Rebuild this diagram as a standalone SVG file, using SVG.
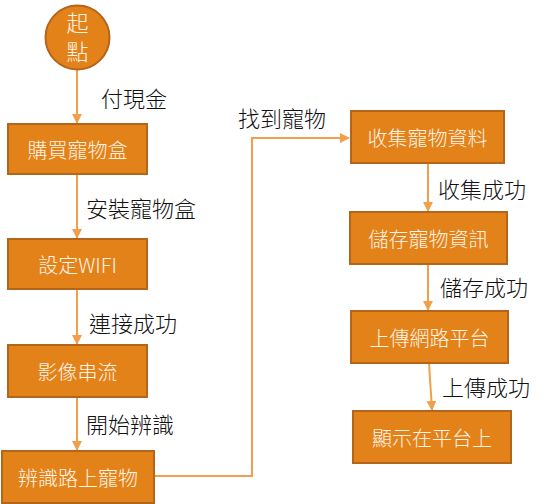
<svg xmlns="http://www.w3.org/2000/svg" width="554" height="504" viewBox="0 0 554 504">
<style>
.box{fill:#E4821A;stroke:#B4651C;stroke-width:2}
.bt{fill:#FFF4E6;font-family:"Noto Sans CJK TC","Noto Sans",sans-serif;font-size:20px;font-weight:300;text-anchor:middle;dominant-baseline:central}
.lb{fill:#111;font-family:"Noto Sans CJK TC","Noto Sans",sans-serif;font-size:22px;font-weight:300;dominant-baseline:central}
.cn{fill:none;stroke:#F0A04B;stroke-width:2}
</style>
<defs>
<marker id="ah" viewBox="0 0 10 10" refX="9" refY="5" markerWidth="5" markerHeight="5" orient="auto" markerUnits="strokeWidth">
<path d="M0,0 L10,5 L0,10 z" fill="#F0A04B"/>
</marker>
</defs>
<rect width="554" height="504" fill="#fff"/>
<g id="connectors">
<line class="cn" x1="77" y1="70" x2="77" y2="123" marker-end="url(#ah)"/>
<line class="cn" x1="77" y1="174" x2="77" y2="238" marker-end="url(#ah)"/>
<line class="cn" x1="77" y1="289" x2="77" y2="344" marker-end="url(#ah)"/>
<line class="cn" x1="77" y1="397" x2="77" y2="450" marker-end="url(#ah)"/>
<polyline class="cn" points="154,476 252,476 252,138 349,138" marker-end="url(#ah)"/>
<line class="cn" x1="428" y1="163" x2="428" y2="211" marker-end="url(#ah)"/>
<line class="cn" x1="428" y1="264" x2="428" y2="310" marker-end="url(#ah)"/>
<line class="cn" x1="429" y1="363" x2="432" y2="410" marker-end="url(#ah)"/>
</g>
<g id="labels">
<text class="lb" x="101" y="97">付現金</text>
<text class="lb" x="86" y="207">安裝寵物盒</text>
<text class="lb" x="89" y="322">連接成功</text>
<text class="lb" x="86" y="423">開始辨識</text>
<text class="lb" x="238" y="117">找到寵物</text>
<text class="lb" x="438" y="188">收集成功</text>
<text class="lb" x="440" y="286">儲存成功</text>
<text class="lb" x="442" y="386">上傳成功</text>
</g>
<g id="start">
<circle cx="77.5" cy="37.5" r="32" fill="#E4821A" stroke="#B4651C" stroke-width="2"/>
<text class="bt" x="77.5" y="31" style="font-size:22px;dominant-baseline:alphabetic">起</text>
<text class="bt" x="77.5" y="60" style="font-size:22px;dominant-baseline:alphabetic">點</text>
</g>
<g id="n1"><rect class="box" x="8" y="124" width="139" height="50"/><text class="bt" x="77.5" y="149">購買寵物盒</text></g>
<g id="n2"><rect class="box" x="8" y="239" width="139" height="50"/><text class="bt" x="77.5" y="264">設定WIFI</text></g>
<g id="n3"><rect class="box" x="8" y="345" width="139" height="52"/><text class="bt" x="77.5" y="371">影像串流</text></g>
<g id="n4"><rect class="box" x="2" y="451" width="152" height="52"/><text class="bt" x="78" y="477">辨識路上寵物</text></g>
<g id="n5"><rect class="box" x="351" y="111" width="153" height="52"/><text class="bt" x="427.5" y="137">收集寵物資料</text></g>
<g id="n6"><rect class="box" x="350" y="212" width="157" height="52"/><text class="bt" x="428.5" y="238">儲存寵物資訊</text></g>
<g id="n7"><rect class="box" x="351" y="311" width="157" height="52"/><text class="bt" x="429.5" y="337">上傳網路平台</text></g>
<g id="n8"><rect class="box" x="353" y="411" width="158" height="52"/><text class="bt" x="432" y="437">顯示在平台上</text></g>
</svg>
